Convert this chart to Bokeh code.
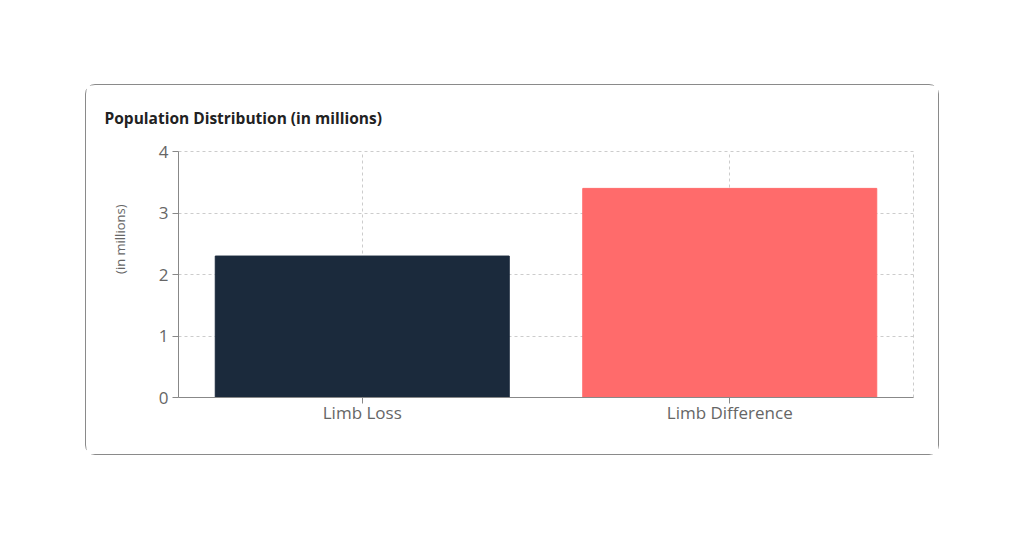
from bokeh.plotting import figure
from bokeh.models import ColumnDataSource, Title, FactorRange, Range1d
from bokeh.embed import file_html
from bokeh.resources import INLINE

categories = ["Limb Loss", "Limb Difference"]
population = [2.3, 3.4]
colors = ["#1b2a3c", "#ff6b6b"]
y_ticks = [0, 1, 2, 3, 4]

src = ColumnDataSource(dict(cat=categories, val=population, color=colors))

FONT = "Open Sans"

p = figure(
    x_range=FactorRange(*categories, range_padding=0),
    y_range=Range1d(0, 4),
    frame_width=735, frame_height=246,
    min_border_left=92, min_border_right=25, min_border_top=66, min_border_bottom=57,
    output_backend="svg", toolbar_location=None,
    title="Population Distribution (in millions)",
    styles={"border": "1px solid #8a8a8a", "border-radius": "10px",
            "margin-left": "85px", "margin-top": "84px"},
)
p.vbar(x="cat", top="val", width=0.8, color="color", source=src)

p.title.text_font = FONT
p.title.text_font_style = "bold"
p.title.text_font_size = "15.5px"
p.title.text_color = "#222222"
p.title.align = "left"
p.title.offset = -74
p.title.standoff = 42
p.title.vertical_align = "top"

for ax in (p.xaxis[0], p.yaxis[0]):
    ax.axis_line_color = "#888888"
    ax.major_tick_line_color = "#888888"
    ax.major_tick_in = 0
    ax.major_tick_out = 6
    ax.minor_tick_line_color = None
    ax.major_label_text_font = FONT
    ax.major_label_text_font_size = "17px"
    ax.major_label_text_color = "#666666"

p.yaxis.ticker = y_ticks
p.xaxis.major_label_standoff = -3
p.yaxis.major_label_standoff = 4

p.ygrid.grid_line_color = "#cccccc"
p.ygrid.grid_line_dash = "3 3"
p.xgrid.grid_line_color = "#cccccc"
p.xgrid.grid_line_dash = "3 3"
p.outline_line_color = "#cccccc"
p.outline_line_dash = "3 3"

ylab = Title(text="(in millions)", align="right", offset=53, standoff=49,
             text_font=FONT, text_font_size="13px", text_color="#666666",
             text_font_style="normal", vertical_align="top")
p.add_layout(ylab, "left")

open("out.html", "w").write(file_html(p, INLINE))
